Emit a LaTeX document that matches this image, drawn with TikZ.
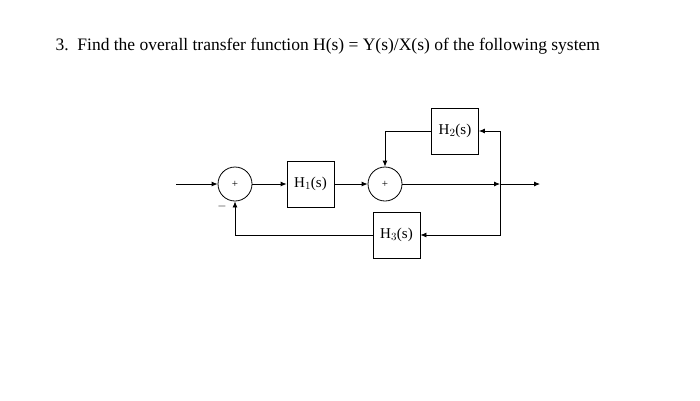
\documentclass[tikz,border=0pt]{standalone}
\usepackage{fontspec}
\setmainfont{Liberation Serif}
\usetikzlibrary{arrows.meta}
\begin{document}
\begin{tikzpicture}[x=1pt,y=-1pt,
  blk/.style={draw,line width=0.8pt,minimum width=47pt,minimum height=46pt,inner sep=0pt,font=\fontsize{15}{17}\selectfont},
  sumn/.style={draw,circle,line width=0.8pt,minimum size=34pt,inner sep=0pt,font=\fontsize{11}{12}\selectfont},
  ar/.style={-{Latex[length=6pt,width=5pt]},line width=0.8pt},
  ln/.style={line width=0.8pt}]
\useasboundingbox (0,0) rectangle (700,400);
\node[anchor=west,font=\fontsize{17.5}{20}\selectfont] (title) at (52,46) {3.\enspace Find the overall transfer function H(s) = Y(s)/X(s) of the following system};
\coordinate (in) at (176,184);
\node[sumn] (s1) at (235,184) {+};
\node[blk] (h1) at (310.5,184) {H$_1$(s)};
\node[sumn] (s2) at (385,184) {+};
\node[blk] (h2) at (455,131) {H$_2$(s)};
\node[blk] (h3) at (396.5,235) {H$_3$(s)};
\coordinate (j) at (500,184);
\coordinate (out) at (540,184);
\node[font=\fontsize{12}{12}\selectfont] (m) at (222,206) {$-$};
\draw[ar] (in) -- (s1);
\draw[ar] (s1) -- (h1);
\draw[ar] (h1) -- (s2);
\draw[ar] (s2) -- (j);
\draw[ar] (j) -- (out);
\draw[ar] (j) |- (h2.east);
\draw[ar] (j) |- (h3.east);
\draw[ar] (h2.west) -| (s2.north);
\draw[ar] (h3.west) -| (s1.south);
\end{tikzpicture}
\end{document}
